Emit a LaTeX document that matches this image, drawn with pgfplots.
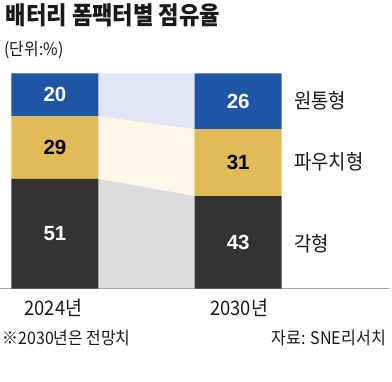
\documentclass[border=0pt]{standalone}
\usepackage{fontspec}
\usepackage{pgfplots}
\pgfplotsset{compat=1.18}
\setmainfont{Liberation Sans}
\newfontfamily\kr[FakeStretch=0.92]{Noto Sans CJK KR}
\newfontfamily\krt[FakeStretch=0.9]{Noto Sans CJK KR}
\definecolor{cblue}{HTML}{1F55A5}
\definecolor{cyel}{HTML}{E0BB58}
\definecolor{cdark}{HTML}{333333}
\definecolor{lblue}{HTML}{E2E5F3}
\definecolor{lyel}{HTML}{FCF7E8}
\definecolor{lgray}{HTML}{DCDCDC}
\definecolor{basec}{HTML}{AAAAAA}
\definecolor{txt}{HTML}{1A1A1A}
\pgfplotsset{base/.style={x=1pt,y=2.157pt,xmin=0,xmax=392,ymin=0,ymax=100,hide axis,clip=false}}
\tikzset{val/.style={inner sep=0pt,font=\bfseries\fontsize{20.5}{22}\selectfont},
  lab/.style={inner sep=0pt,text=txt}}
\begin{document}
\begin{tikzpicture}
\begin{axis}[base]
\addplot[fill=lblue,draw=none] coordinates {(98,80) (195,74) (195,100) (98,100)};
\addplot[fill=lyel,draw=none] coordinates {(98,51) (195,43) (195,74) (98,80)};
\addplot[fill=lgray,draw=none] coordinates {(98,0) (195,0) (195,43) (98,51)};
\addplot[basec,line width=0.9pt] coordinates {(0,0) (390,0)};
\path (axis cs:0,-43.1) (axis cs:392,134);
\end{axis}
\begin{axis}[base, ybar stacked, bar width=87]
\addplot[fill=cdark,draw=none] coordinates {(54.5,51) (238,43)};
\addplot[fill=cyel,draw=none] coordinates {(54.5,29) (238,31)};
\addplot[fill=cblue,draw=none] coordinates {(54.5,20) (238,26)};
\end{axis}
\begin{axis}[base]
\node[val,white] at (axis cs:54.5,90) {20};
\node[val,black] at (axis cs:54.5,65.5) {29};
\node[val,white] at (axis cs:54.5,25.5) {51};
\node[val,white] at (axis cs:238,87) {26};
\node[val,black] at (axis cs:238,58.5) {31};
\node[val,white] at (axis cs:238,21.5) {43};
\node[lab,anchor=west,font=\krt\bfseries\fontsize{24.7}{26}\selectfont] at (axis cs:5,127) {배터리 폼팩터별 점유율};
\node[lab,anchor=west,font=\kr\fontsize{17.2}{18}\selectfont] at (axis cs:4,110.8) {(단위:\%)};
\node[lab,anchor=west,font=\kr\fontsize{20.5}{22}\selectfont] at (axis cs:294,87.2) {원통형};
\node[lab,anchor=west,font=\kr\fontsize{20.5}{22}\selectfont] at (axis cs:294,58.9) {파우치형};
\node[lab,anchor=west,font=\kr\fontsize{20.5}{22}\selectfont] at (axis cs:294,20.9) {각형};
\node[lab,font=\kr\fontsize{20}{22}\selectfont] at (axis cs:53,-8.8) {2024년};
\node[lab,font=\kr\fontsize{20}{22}\selectfont] at (axis cs:239,-8.8) {2030년};
\node[lab,anchor=west,font=\kr\fontsize{17.3}{18}\selectfont] at (axis cs:2,-22.7) {※2030년은 전망치};
\node[lab,anchor=east,font=\kr\fontsize{17.5}{18}\selectfont] at (axis cs:386,-22.7) {자료: SNE리서치};
\end{axis}
\end{tikzpicture}
\end{document}
